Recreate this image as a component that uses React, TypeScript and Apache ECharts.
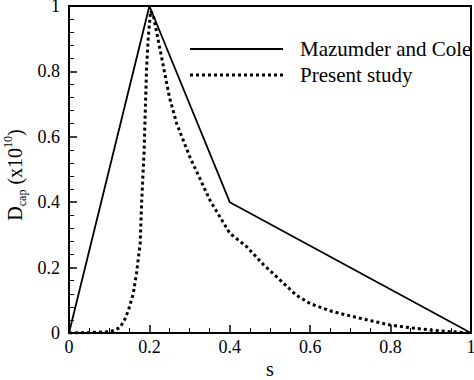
import React, { useEffect, useRef } from "react";
import * as echarts from "echarts";

const mazS = [0, 0.2, 0.4, 1];
const mazD = [0, 1, 0.4, 0];

const presentS = [0, 0.05, 0.1, 0.114, 0.127, 0.138, 0.148, 0.16, 0.168, 0.177, 0.181, 0.187, 0.189, 0.193, 0.197, 0.203, 0.21, 0.226, 0.25, 0.268, 0.3, 0.351, 0.4, 0.442, 0.483, 0.525, 0.566, 0.6, 0.649, 0.7, 0.732, 0.8, 0.85, 0.9, 0.95, 1];
const presentD = [0, 0.001, 0.004, 0.009, 0.017, 0.04, 0.07, 0.121, 0.183, 0.274, 0.407, 0.56, 0.65, 0.81, 0.9, 0.985, 0.97, 0.87, 0.72, 0.64, 0.54, 0.405, 0.305, 0.264, 0.21, 0.162, 0.115, 0.09, 0.068, 0.052, 0.043, 0.024, 0.016, 0.009, 0.004, 0];

const seriesNames = ["Mazumder and Cole", "Present study"];
const xTicks = [0, 0.2, 0.4, 0.6, 0.8, 1];
const yTicks = [0, 0.2, 0.4, 0.6, 0.8, 1];
const xTitle = "s";
const yTitle = "{d|D}{sub|cap}{d| (x10}{sup|10}{d|)}";

const FONT = "Liberation Serif";

export default function App() {
  const ref = useRef<HTMLDivElement>(null);
  useEffect(() => {
    if (!ref.current) return;
    const chart = echarts.init(ref.current, null, { renderer: "svg" });
    const axisCommon = {
      type: "value" as const,
      min: 0,
      max: 1,
      interval: 0.2,
      axisLine: { show: true, lineStyle: { color: "#000", width: 2 } },
      axisTick: { show: true, inside: true, length: 8, lineStyle: { color: "#000", width: 1.5 } },
      minorTick: { show: true, length: 5, lineStyle: { color: "#000", width: 1 } },
      splitLine: { show: false },
      axisLabel: {
        color: "#000",
        fontFamily: FONT,
        fontSize: 18,
        formatter: (v: number) => (xTicks.includes(v) || yTicks.includes(v) ? String(v) : ""),
      },
    };
    const legendGraphic = seriesNames.flatMap((name, i) => [
      {
        type: "line",
        shape: { x1: 190, y1: 49 + i * 26, x2: 283, y2: 49 + i * 26 },
        style: i === 0
          ? { stroke: "#000", lineWidth: 2 }
          : { stroke: "#000", lineWidth: 3, lineDash: [3, 3] },
        silent: true,
      },
      {
        type: "text",
        x: 300,
        y: 49 + i * 26,
        style: {
          text: name,
          fill: "#000",
          font: `21px "${FONT}"`,
          verticalAlign: "middle",
          align: "left",
        },
        silent: true,
      },
    ]);
    const titles = [
      {
        type: "text",
        x: 270,
        y: 369,
        style: {
          text: xTitle,
          fill: "#000",
          font: `20px "${FONT}"`,
          align: "center",
          verticalAlign: "middle",
        },
        silent: true,
      },
      {
        type: "text",
        x: 15,
        y: 175,
        rotation: Math.PI / 2,
        style: {
          text: yTitle,
          fill: "#000",
          fontFamily: FONT,
          fontSize: 20,
          align: "center",
          verticalAlign: "middle",
          rich: {
            d: { fontFamily: FONT, fontSize: 20, fill: "#000", lineHeight: 26, verticalAlign: "middle" },
            sub: { fontFamily: FONT, fontSize: 12, fill: "#000", lineHeight: 12, verticalAlign: "bottom" },
            sup: { fontFamily: FONT, fontSize: 12, fill: "#000", lineHeight: 12, verticalAlign: "top" },
          },
        },
        silent: true,
      },
    ];
    chart.setOption({
      animation: false,
      backgroundColor: "#fff",
      grid: {
        left: 69,
        right: 3,
        top: 6,
        bottom: 47,
        show: true,
        borderColor: "#000",
        borderWidth: 2,
        containLabel: false,
        outerBoundsMode: "none",
      },
      graphic: [...legendGraphic, ...titles],
      xAxis: {
        ...axisCommon,
        minorTick: { ...axisCommon.minorTick, splitNumber: 4 },
        axisLabel: { ...axisCommon.axisLabel, margin: 5 },
      },
      yAxis: {
        ...axisCommon,
        minorTick: { ...axisCommon.minorTick, splitNumber: 5 },
        axisLabel: { ...axisCommon.axisLabel, margin: 9 },
      },
      series: [
        {
          name: seriesNames[0],
          type: "line",
          symbol: "none",
          data: mazS.map((s, i) => [s, mazD[i]]),
          lineStyle: { color: "#000", width: 1.8, type: "solid" },
          itemStyle: { color: "#000" },
        },
        {
          name: seriesNames[1],
          type: "line",
          symbol: "none",
          data: presentS.map((s, i) => [s, presentD[i]]),
          lineStyle: { color: "#000", width: 3, type: [3, 3] },
          itemStyle: { color: "#000" },
        },
      ],
    });
    return () => chart.dispose();
  }, []);
  return <div ref={ref} style={{ width: 474, height: 380, position: "absolute", left: 0, top: 0 }} />;
}
